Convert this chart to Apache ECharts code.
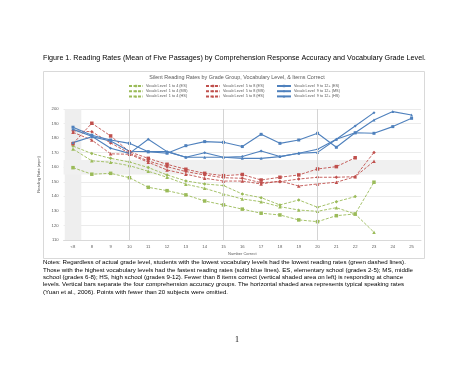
<!DOCTYPE html>
<html><head><meta charset="utf-8">
<script src="https://cdn.jsdelivr.net/npm/echarts@6/dist/echarts.min.js"></script>
<style>html,body{margin:0;padding:0;background:#fff}#c{width:474px;height:366px}</style>
</head><body><div id="c"></div>
<script>
const categories = ['<8','8','9','10','11','12','13','14','15','16','17','18','19','20','21','22','23','24','25'];
const seriesNames = [
 'Vocab Level  1 to 4 (ES)','Vocab Level  1 to 4 (MS)','Vocab Level  1 to 4 (HS)',
 'Vocab Level  5 to 8 (ES)','Vocab Level  5 to 8 (MS)','Vocab Level  5 to 8 (HS)',
 'Vocab Level  9 to 12+ (ES)','Vocab Level  9 to 12+ (MS)','Vocab Level  9 to 12+ (HS)'];
const low_ES = [159.7,155.2,155.8,152.8,146.2,143.9,141,136.8,134.1,131.2,128.4,127.2,123.8,122.6,126.7,127.9,149.7,null,null];
const low_MS = [174.5,169.4,166.1,163.6,159.8,154.7,150.6,148.5,147.4,141.6,139.1,134.1,137.5,132.5,136.3,139.8,null,null,null];
const low_HS = [172.5,164.4,163.4,161.1,157.2,153.1,148.3,145.5,141.6,138.2,136.3,132.9,130.6,129.7,132.2,127.9,115.3,null,null];
const mid_ES = [176.2,190.2,181.5,170.6,166.1,162,158.6,155.8,154.2,155,151.2,153.1,154.7,158.8,160.4,166.5,null,null,null];
const mid_MS = [185,184.4,176.7,169.6,164.3,160.4,157,154.7,152.8,152.4,149.4,150.1,151.9,153.1,153.1,153.5,170.2,null,null];
const mid_HS = [184,178.7,169.2,168.9,163.4,158.1,155.2,152.4,150.5,150.5,148.5,150.5,147.1,148.5,149.7,153.5,164.1,null,null];
const high_ES = [187.5,182,178.7,176.4,170.7,169.6,174.8,177.6,177.1,174.2,182.6,176.4,178.7,183.3,173.7,183.7,183.3,187.9,193.6];
const high_MS = [186,181.3,173,169.5,179.2,170.7,166.8,170,166.8,167.3,171.2,167.3,169.6,172.3,179.2,188.3,197.5,null,null];
const high_HS = [176.9,181,178,171,170.7,170.7,166.8,166.8,166.8,166.1,166.1,167.3,169.6,170.2,179.2,183.7,192.4,198.2,195.9];
const shadeCategory = [200,null,null,null,null,null,null,null,null,null,null,null,null,null,null,null,null,null,null];
const speakingBand = [155,165];
const dividers = ['10','15','20'];
const yTicks = {min:110,max:200,interval:10};

const GREEN='#9BBB59', RED='#C0504D', BLUE='#4F81BD';
const dataSets=[low_ES,low_MS,low_HS,mid_ES,mid_MS,mid_HS,high_ES,high_MS,high_HS];
const colors=[GREEN,GREEN,GREEN,RED,RED,RED,BLUE,BLUE,BLUE];
const symbols=['rect','diamond','triangle','rect','diamond','triangle','rect','diamond','triangle'];

const series=[{
  type:'bar', name:'shade', data:shadeCategory, barWidth:'88%', silent:true,
  itemStyle:{color:'#eeeeee'}, z:0, legendHoverLink:false,
  markArea:{silent:true,itemStyle:{color:'#f0f0f0'},data:[[{yAxis:speakingBand[0]},{yAxis:speakingBand[1]}]]},
  markLine:{silent:true,symbol:'none',label:{show:false},lineStyle:{color:'#d4d4d4',type:'solid',width:1},
    data:dividers.map(d=>({xAxis:d}))}
}];
dataSets.forEach((d,i)=>{
  series.push({type:'line',name:seriesNames[i],data:d,symbol:symbols[i],symbolSize:i<6?3.5:3,
    connectNulls:false,z:3,
    lineStyle:{color:colors[i],width:i<6?0.9:1.1,type:i<6?[3,1.5]:'solid'},
    itemStyle:{color:colors[i]}});
});

const legendBase={orient:'vertical',top:84,itemWidth:14,itemHeight:3,itemGap:1.2,
  textStyle:{fontSize:3.8,color:'#595959',fontFamily:'Liberation Sans',padding:[0,0,0,-2]},padding:0};
const chart=echarts.init(document.getElementById('c'),null,{renderer:'canvas'});
chart.setOption({
  animation:false,
  backgroundColor:'#ffffff',
  grid:{left:63.6,right:53,top:109,bottom:126,containLabel:false},
  legend:[
    Object.assign({},legendBase,{left:128,data:seriesNames.slice(0,3)}),
    Object.assign({},legendBase,{left:205,data:seriesNames.slice(3,6)}),
    Object.assign({},legendBase,{left:276,data:seriesNames.slice(6,9)})
  ],
  xAxis:{type:'category',data:categories,boundaryGap:true,
    name:'Number Correct',nameLocation:'middle',nameGap:12,
    nameTextStyle:{fontSize:4,color:'#595959',fontFamily:'Liberation Sans'},
    axisLine:{lineStyle:{color:'#d9d9d9'}},axisTick:{show:false},
    axisLabel:{fontSize:4.2,color:'#595959',margin:5,fontFamily:'Liberation Sans'},
    splitLine:{show:false}},
  yAxis:{type:'value',min:yTicks.min,max:yTicks.max,interval:yTicks.interval,
    name:'Reading Rate (wpm)',nameLocation:'middle',nameGap:17,nameRotate:90,
    nameTextStyle:{fontSize:4,color:'#595959',fontFamily:'Liberation Sans'},
    axisLine:{show:false},axisTick:{show:false},
    axisLabel:{fontSize:4.2,color:'#595959',margin:5,fontFamily:'Liberation Sans'},
    splitLine:{lineStyle:{color:'#e6e6e6',width:0.8}}},
  series:series,
  graphic:[
    {type:'rect',shape:{x:43.5,y:71.5,width:381,height:187},style:{fill:'none',stroke:'#d9d9d9',lineWidth:1},z:-10,silent:true},
    {type:'text',left:43,top:55,style:{text:'Figure 1. Reading Rates (Mean of Five Passages) by Comprehension Response Accuracy and Vocabulary Grade Level.',
      fontSize:7.2,fontFamily:'Liberation Sans',fill:'#000'}},
    {type:'text',left:'center',top:75,style:{text:'Silent Reading Rates by Grade Group, Vocabulary Level, & Items Correct',
      fontSize:5.4,fontFamily:'Liberation Sans',fill:'#595959'}},
    {type:'text',left:43,top:259,style:{text:
      'Notes: Regardless of actual grade level, students with the lowest vocabulary levels had the lowest reading rates (green dashed lines).\n'+
      'Those with the highest vocabulary levels had the fastest reading rates (solid blue lines). ES, elementary school (grades 2-5); MS, middle\n'+
      'school (grades 6-8); HS, high school (grades 9-12). Fewer than 8 items correct (vertical shaded area on left) is responding at chance\n'+
      'levels. Vertical bars separate the four comprehension accuracy groups. The horizontal shaded area represents typical speaking rates\n'+
      '(Yuan et al., 2006). Points with fewer than 20 subjects were omitted.',
      fontSize:6.15,lineHeight:7.3,fontFamily:'Liberation Sans',fill:'#000'}},
    {type:'text',left:235,top:336,style:{text:'1',fontSize:8,fontFamily:'Liberation Serif',fill:'#000'}}
  ]
});
</script></body></html>
